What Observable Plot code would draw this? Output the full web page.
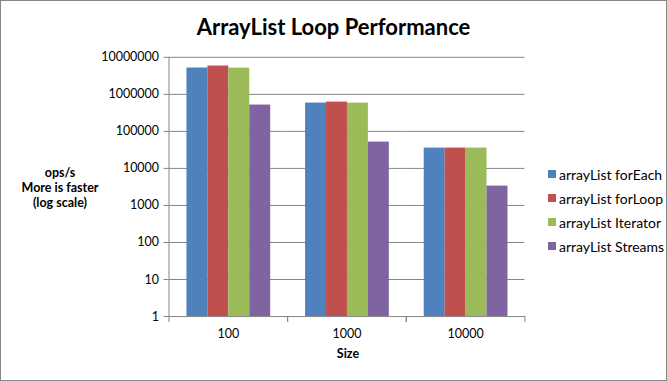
<!DOCTYPE html>
<html>
<head>
<meta charset="utf-8">
<script src="https://cdn.jsdelivr.net/npm/d3@7"></script>
<script src="https://cdn.jsdelivr.net/npm/@observablehq/plot@0.6"></script>
<style>
  html, body { margin: 0; padding: 0; background: #fff; }
  #chart { position: relative; width: 667px; height: 381px; box-sizing: border-box; border: 1px solid #868686; background: #fff; font-family: Lato, "Open Sans", sans-serif; color: #000; overflow: hidden; }
  #chart svg { position: absolute; left: -1px; top: -1px; }
  .title { position: absolute; left: 0; width: 665px; top: 12px; text-align: center; font-size: 22px; font-weight: bold; }
  .ylabel { position: absolute; left: 9px; width: 100px; top: 164px; text-align: center; font-size: 12.5px; font-weight: bold; line-height: 15px; }
  .xlabel { position: absolute; left: 297px; width: 100px; top: 345px; text-align: center; font-size: 12.5px; font-weight: bold; }
  .legend { position: absolute; left: 547px; top: 161px; font-size: 14px; }
  .legend .item { height: 24px; display: flex; align-items: center; white-space: nowrap; }
  .legend .sw { width: 8px; height: 8px; margin-right: 3px; }
</style>
</head>
<body>
<div id="chart"></div>
<script>
const groups = ["100", "1000", "10000"];
const series = ["arrayList forEach", "arrayList forLoop", "arrayList Iterator", "arrayList Streams"];
const forEachOps = [5140000, 582000, 35400];
const forLoopOps = [5820000, 619000, 35400];
const iteratorOps = [5100000, 580000, 35400];
const streamsOps = [514000, 51400, 3330];
const yTicks = [1, 10, 100, 1000, 10000, 100000, 1000000, 10000000];
const colors = ["#4F81BD", "#C0504D", "#9BBB59", "#8064A2"];

const seriesValues = [forEachOps, forLoopOps, iteratorOps, streamsOps];
const rows = [];
groups.forEach((g, i) => series.forEach((s, j) => rows.push({size: g, series: s, ops: seriesValues[j][i]})));

const gray = "#868686";
const plotH = 381 - 57 - 64;

const chart = Plot.plot({
  width: 667,
  height: 381,
  marginTop: 57,
  marginBottom: 64,
  marginLeft: 169,
  marginRight: 141,
  style: {fontFamily: "Lato, 'Open Sans', sans-serif", fontSize: "12.5px", color: "#000", background: "transparent"},
  fx: {domain: groups, padding: 0, label: null},
  x: {domain: series, paddingInner: 0, paddingOuter: 0.736, axis: null},
  y: {type: "log", domain: [1, 1e7]},
  color: {domain: series, range: colors},
  marks: [
    Plot.ruleY(yTicks.slice(1), {stroke: gray, strokeWidth: 1}),
    Plot.barY(rows, {fx: "size", x: "series", y1: 1, y2: "ops", fill: "series"}),
    Plot.frame({anchor: "bottom", stroke: gray}),
    Plot.frame({anchor: "left", facetAnchor: "left", stroke: gray}),
    Plot.frame({anchor: "left", insetTop: plotH, insetBottom: -5, stroke: gray}),
    Plot.frame({anchor: "right", insetTop: plotH, insetBottom: -5, stroke: gray}),
    Plot.axisY({ticks: yTicks, tickFormat: d3.format("d"), tickSize: 5, tickPadding: 5, stroke: gray, fill: "#000", label: null}),
    Plot.axisFx({anchor: "bottom", tickSize: 0, tickPadding: 13, fill: "#000", label: null})
  ]
});

const root = document.getElementById("chart");
root.appendChild(chart);

const title = document.createElement("div");
title.className = "title";
title.textContent = "ArrayList Loop Performance";
root.appendChild(title);

const ylab = document.createElement("div");
ylab.className = "ylabel";
ylab.innerHTML = "ops/s<br>More is faster<br>(log scale)";
root.appendChild(ylab);

const xlab = document.createElement("div");
xlab.className = "xlabel";
xlab.textContent = "Size";
root.appendChild(xlab);

const legend = document.createElement("div");
legend.className = "legend";
series.forEach((s, j) => {
  const item = document.createElement("div");
  item.className = "item";
  const sw = document.createElement("span");
  sw.className = "sw";
  sw.style.background = colors[j];
  const t = document.createElement("span");
  t.textContent = s;
  item.appendChild(sw);
  item.appendChild(t);
  legend.appendChild(item);
});
root.appendChild(legend);
</script>
</body>
</html>
